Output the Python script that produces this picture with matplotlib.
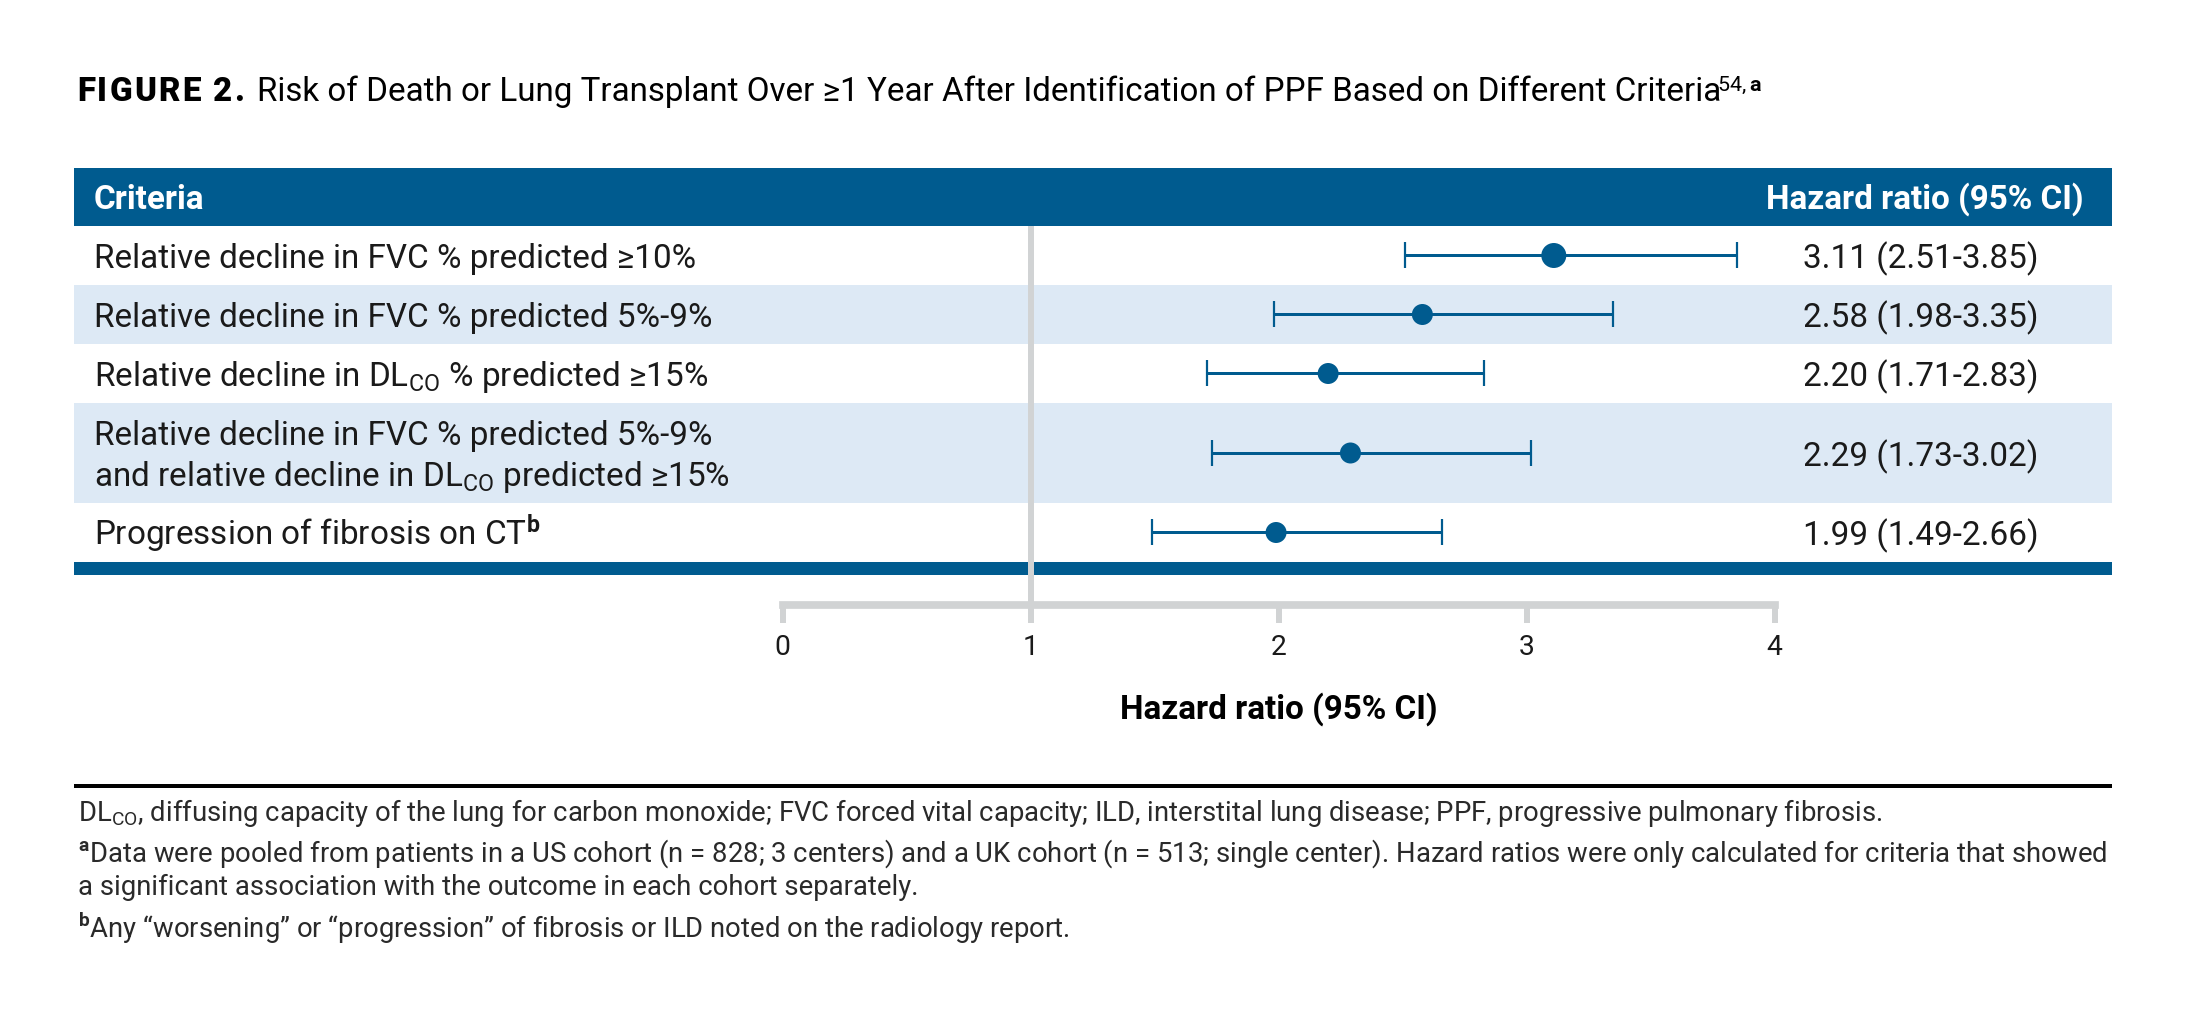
import matplotlib
matplotlib.use('Agg')
import matplotlib.pyplot as plt
from matplotlib.patches import Rectangle

# ---------------- data ----------------
criteria = [
    "Relative decline in FVC % predicted ≥10%",
    "Relative decline in FVC % predicted 5%-9%",
    "Relative decline in DL$_\\mathregular{CO}$ % predicted ≥15%",
    "Relative decline in FVC % predicted 5%-9%\nand relative decline in DL$_\\mathregular{CO}$ predicted ≥15%",
    "Progression of fibrosis on CT$^\\mathbf{b}$",
]
hr = [3.11, 2.58, 2.20, 2.29, 1.99]
ci_low = [2.51, 1.98, 1.71, 1.73, 1.49]
ci_high = [3.85, 3.35, 2.83, 3.02, 2.66]
xticks = [0, 1, 2, 3, 4]
xtick_labels = ["0", "1", "2", "3", "4"]

title_bold = "FIGURE 2."
title_main = "Risk of Death or Lung Transplant Over ≥1 Year After Identification of PPF Based on Different Criteria"
title_sup = "$^{\\mathregular{54,}\\mathbf{a}}$"
header_left = "Criteria"
header_right = "Hazard ratio (95% CI)"
xlabel = "Hazard ratio (95% CI)"
footnotes = [
    "DL$_\\mathregular{CO}$, diffusing capacity of the lung for carbon monoxide; FVC forced vital capacity; ILD, interstital lung disease; PPF, progressive pulmonary fibrosis.",
    "${}^\\mathbf{a}$Data were pooled from patients in a US cohort (n = 828; 3 centers) and a UK cohort (n = 513; single center). Hazard ratios were only calculated for criteria that showed",
    "a significant association with the outcome in each cohort separately.",
    "${}^\\mathbf{b}$Any “worsening” or “progression” of fibrosis or ILD noted on the radiology report.",
]

# ---------------- style ----------------
W, H, DPI = 2188, 1013, 100
PX = 72.0 / DPI  # points per pixel
FONT = 'Roboto'
plt.rcParams['font.family'] = [FONT, 'DejaVu Sans']
plt.rcParams['mathtext.fontset'] = 'custom'
plt.rcParams['mathtext.rm'] = FONT
plt.rcParams['mathtext.bf'] = FONT + ':bold'
plt.rcParams['mathtext.it'] = FONT + ':italic'

BLUE = '#005B8F'
BAND = '#DDE9F5'
GRAY = '#D1D3D4'
TXT = '#1A1A1A'
FOOT = '#2A2A2A'

TAB_L, TAB_R = 74, 2112
HEAD_T, HEAD_B = 168, 226
ROW_H, LINE_H = 59, 41
AX_Y = 604.5
X0_PX, X4_PX = 782.6, 1774.5

fig = plt.figure(figsize=(W / DPI, H / DPI), dpi=DPI)
bg = fig.add_axes([0, 0, 1, 1])
bg.set_xlim(0, W)
bg.set_ylim(H, 0)
bg.axis('off')
renderer = fig.canvas.get_renderer()


def text_w(s, size, **kw):
    t = bg.text(0, 0, s, fontsize=size, **kw)
    w = t.get_window_extent(renderer).width
    t.remove()
    return w


def fit(s, target, **kw):
    return 20 * target / text_w(s, 20, **kw)


def base(center, size):
    # baseline for a given cap-height centre
    return center + 0.355 * size / PX


fs_row = fit(criteria[0], 602)
fs_hdr = fit(header_right, 317, fontweight='bold')
fs_title = fit(title_main, 1461)
fs_foot = fit(footnotes[0], 1803)
fs_tick = 0.85 * fs_row

# ---------------- title ----------------
def spaced(x0, x1, yb, s, size, **kw):
    ws = [text_w(c, size, **kw) if c != ' ' else 0 for c in s]
    space_w = 0.22 * size / PX
    total = sum(ws) + space_w * s.count(' ')
    sp = (x1 - x0 - total) / (len(s) - 1)
    x = x0
    for c, w in zip(s, ws):
        if c == ' ':
            x += space_w + sp
            continue
        bg.text(x, yb, c, fontsize=size, va='baseline', ha='left', **kw)
        x += w + sp

ty = base(89, fs_title)
spaced(77, 244, ty, title_bold, fs_title, fontweight='black', color='black')
t = bg.text(257, ty, title_main, fontsize=fs_title, va='baseline', ha='left', color='black')
ex = t.get_window_extent(renderer)
bg.text(ex.x1 - 4, ty, title_sup, fontsize=fs_title * 0.92, va='baseline', ha='left',
        color='black')

# ---------------- table background ----------------
bg.add_patch(Rectangle((TAB_L, HEAD_T), TAB_R - TAB_L, HEAD_B - HEAD_T, color=BLUE, lw=0))
bg.text(94, base(197, fs_hdr), header_left, fontsize=fs_hdr, fontweight='bold', color='white',
        va='baseline', ha='left')
bg.text(2084, base(197, fs_hdr), header_right, fontsize=fs_hdr, fontweight='bold', color='white',
        va='baseline', ha='right')

row_lines = [c.split('\n') for c in criteria]
tops, centers = [], []
y = HEAD_B
for lines in row_lines:
    h = ROW_H + LINE_H * (len(lines) - 1)
    tops.append(y)
    centers.append(y + h / 2)
    y += h
table_bottom = y

for i, lines in enumerate(row_lines):
    h = ROW_H + LINE_H * (len(lines) - 1)
    if i % 2 == 1:
        bg.add_patch(Rectangle((TAB_L, tops[i]), TAB_R - TAB_L, h, color=BAND, lw=0))
    c0 = centers[i] - LINE_H * (len(lines) - 1) / 2
    for j, ln in enumerate(lines):
        bg.text(94, base(c0 + j * LINE_H + 1, fs_row), ln, fontsize=fs_row, color=TXT,
                va='baseline', ha='left')
    lab = f"{hr[i]:.2f} ({ci_low[i]:.2f}-{ci_high[i]:.2f})"
    bg.text(1921, base(centers[i] + 1, fs_row), lab, fontsize=fs_row, color=TXT,
            va='baseline', ha='center')

bg.add_patch(Rectangle((TAB_L, table_bottom), TAB_R - TAB_L, 13, color=BLUE, lw=0))

# footer rule + notes
bg.plot([TAB_L, TAB_R], [786, 786], color='black', lw=4 * PX, solid_capstyle='butt')
foot_centers = [811, 852, 885, 928]
for s, c in zip(footnotes, foot_centers):
    bg.text(78, base(c, fs_foot), s, fontsize=fs_foot, color=FOOT, va='baseline', ha='left')

# ---------------- forest axes ----------------
fa = fig.add_axes([X0_PX / W, (H - AX_Y) / H, (X4_PX - X0_PX) / W, (AX_Y - HEAD_B) / H])
fa.patch.set_visible(False)
fa.set_xlim(xticks[0], xticks[-1])
fa.set_ylim(AX_Y, HEAD_B)
for sp in ['top', 'left', 'right']:
    fa.spines[sp].set_visible(False)
fa.spines['bottom'].set_color(GRAY)
fa.spines['bottom'].set_linewidth(7.7 * PX)
fa.set_yticks([])
fa.set_xticks(xticks)
fa.set_xticklabels(xtick_labels)
fa.tick_params(axis='x', direction='out', length=17.5 * PX, width=6 * PX, color=GRAY,
               labelsize=fs_tick, labelcolor=TXT, pad=12 * PX)
fa.axvline(1, color=GRAY, lw=6 * PX, zorder=1)

xerr = [[h - l for h, l in zip(hr, ci_low)], [u - h for h, u in zip(hr, ci_high)]]
fa.errorbar(hr, centers, xerr=xerr, fmt='none', ecolor=BLUE, elinewidth=3 * PX,
            capsize=13 * PX, capthick=2.2 * PX, zorder=3, clip_on=False)
msize = [25, 21, 21, 21, 21]
fa.scatter(hr, centers, s=[(m * PX) ** 2 for m in msize], color=BLUE, zorder=4, clip_on=False,
           linewidths=0)

fa.text(sum(fa.get_xlim()) / 2, base(707, fs_hdr), xlabel, fontsize=fs_hdr, fontweight='bold',
        color='black', ha='center', va='baseline')

fig.savefig('out.png', dpi=DPI)
